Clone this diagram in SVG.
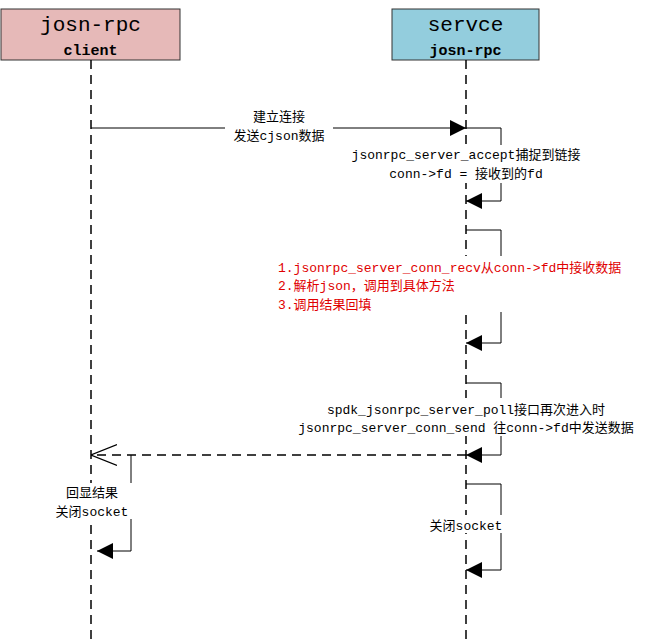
<svg xmlns="http://www.w3.org/2000/svg" width="654" height="644" viewBox="0 0 654 644">
<style>
.t{font-family:"Liberation Mono","Noto Sans CJK SC",monospace;font-size:13px;fill:#000}
.r{fill:#e00000}
.h1{font-family:"Liberation Mono","Noto Sans CJK SC",monospace;font-size:21px}
.h2{font-family:"Liberation Mono","Noto Sans CJK SC",monospace;font-size:15px;font-weight:bold}
.ll{stroke:#000;stroke-width:1.5;stroke-dasharray:9,6;fill:none}
.ln{stroke:#000;stroke-width:1;fill:none}
.bg{fill:#fff}
</style>
<defs>
<marker id="f" viewBox="0 0 10 10" refX="10" refY="5" markerWidth="16" markerHeight="16" markerUnits="userSpaceOnUse" orient="auto"><path d="M0,0L10,5L0,10z" fill="#000"/></marker>
<marker id="o" viewBox="0 0 10 10" refX="10" refY="5" markerWidth="26" markerHeight="26" markerUnits="userSpaceOnUse" orient="auto"><path d="M0,1L10,5L0,9" fill="none" stroke="#000" stroke-width="0.5"/></marker>
</defs>
<rect width="654" height="644" fill="#fff"/>
<g id="client">
<rect x="1" y="9" width="179" height="51" fill="#e6b9b8" stroke="#333"/>
<text class="h1" x="90.500" y="31" text-anchor="middle">josn-rpc</text>
<text class="h2" x="90.500" y="55" text-anchor="middle">client</text>
<line class="ll" x1="91" y1="60" x2="91" y2="644"/>
</g>
<g id="server">
<rect x="392" y="9" width="147" height="51" fill="#93cddd" stroke="#333"/>
<text class="h1" x="465.500" y="31" text-anchor="middle">servce</text>
<text class="h2" x="465.500" y="55" text-anchor="middle">josn-rpc</text>
<line class="ll" x1="466" y1="60" x2="466" y2="644"/>
</g>
<g id="connectors">
<line class="ln" x1="91" y1="128" x2="466" y2="128" marker-end="url(#f)"/>
<rect class="bg" x="225" y="108" width="108" height="36"/>
<text class="t" x="279" y="121" text-anchor="middle">建立连接</text>
<text class="t" x="279" y="140" text-anchor="middle">发送cjson数据</text>

<path class="ln" d="M466,128H501V201H466" marker-end="url(#f)"/>
<rect class="bg" x="342" y="145" width="248" height="38"/>
<text class="t" x="466" y="159" text-anchor="middle">jsonrpc_server_accept捕捉到链接</text>
<text class="t" x="466" y="178" text-anchor="middle">conn-&gt;fd = 接收到的fd</text>

<path class="ln" d="M466,230H501V343H466" marker-end="url(#f)"/>
<rect class="bg" x="276" y="256" width="370" height="56"/>
<text class="t r" x="278" y="272">1.jsonrpc_server_conn_recv从conn-&gt;fd中接收数据</text>
<text class="t r" x="278" y="290">2.解析json，调用到具体方法</text>
<text class="t r" x="278" y="309">3.调用结果回填</text>

<path class="ln" d="M466,383H501V455H466" marker-end="url(#f)"/>
<rect class="bg" x="258" y="398" width="396" height="38"/>
<text class="t" x="466" y="414" text-anchor="middle">spdk_jsonrpc_server_poll接口再次进入时</text>
<text class="t" x="466" y="432" text-anchor="middle">jsonrpc_server_conn_send 往conn-&gt;fd中发送数据</text>

<line class="ll" x1="466" y1="455" x2="91" y2="455" marker-end="url(#o)"/>

<path class="ln" d="M131,455V551H97" marker-end="url(#f)"/>
<rect class="bg" x="50" y="483" width="84" height="36"/>
<text class="t" x="92" y="497" text-anchor="middle">回显结果</text>
<text class="t" x="92" y="516" text-anchor="middle">关闭socket</text>

<path class="ln" d="M466,484H501V570H466" marker-end="url(#f)"/>
<rect class="bg" x="424" y="515" width="84" height="18"/>
<text class="t" x="466" y="530" text-anchor="middle">关闭socket</text>
</g>
</svg>
